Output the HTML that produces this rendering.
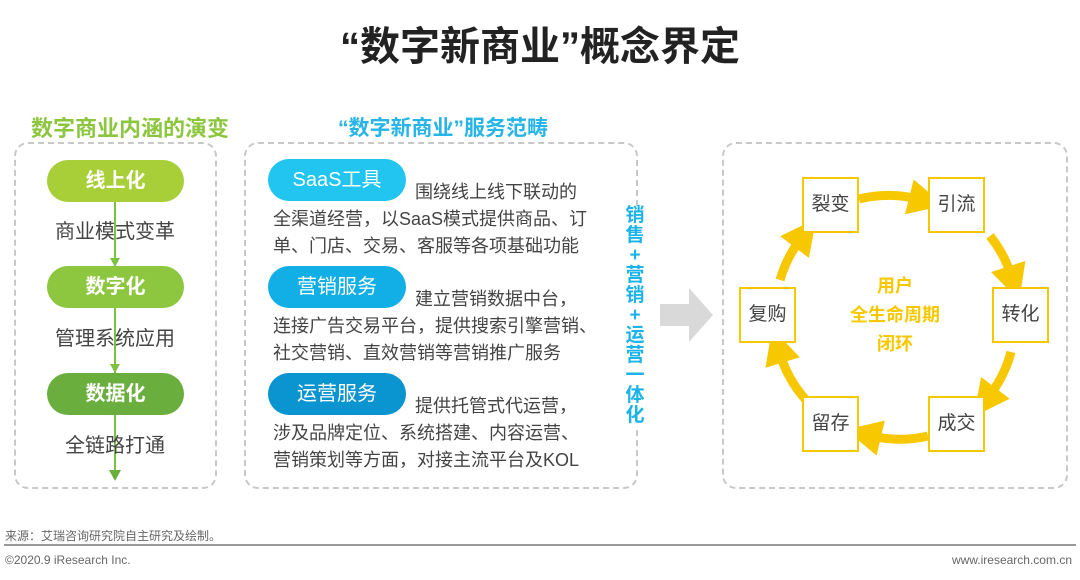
<!DOCTYPE html>
<html><head><meta charset="utf-8"><style>
body{margin:0;width:1080px;height:580px;background:#fff;position:relative;overflow:hidden;font-family:"Liberation Sans","Noto Sans CJK SC",sans-serif;}
.a{position:absolute;}
.box{position:absolute;border:2px dashed #c8c8c8;border-radius:14px;}
.pill{position:absolute;border-radius:21px;color:#fff;font-size:20px;text-align:center;line-height:42px;}
.g{font-weight:bold;}
.t{position:absolute;font-size:20px;color:#444;white-space:nowrap;}
.m{position:absolute;font-size:18px;color:#444;white-space:nowrap;}
.nb{position:absolute;width:53px;height:52px;border:2px solid #f7c800;background:#fff;font-size:19px;color:#444;text-align:center;line-height:52px;}
</style></head><body>
<div class="a" style="left:0;width:1080px;top:14px;text-align:center;font-size:40px;font-weight:bold;color:#222;">“数字新商业”概念界定</div>

<div class="a" style="left:31px;top:111px;font-size:22px;font-weight:bold;color:#8cc63f;">数字商业内涵的演变</div>
<div class="box" style="left:14px;top:142px;width:199px;height:343px;"></div>
<svg class="a" style="left:0;top:0" width="240" height="500">
<line x1="115" y1="200" x2="115" y2="472" stroke="#7cc242" stroke-width="2"/>
<polygon points="110,258 120,258 115,267" fill="#7cc242"/>
<polygon points="110,364 120,364 115,373" fill="#7cc242"/>
<polygon points="109,470 121,470 115,481" fill="#6aaf3d"/>
</svg>
<div class="pill g" style="left:47px;top:160px;width:137px;height:42px;background:#a9cf38;">线上化</div>
<div class="pill g" style="left:47px;top:266px;width:137px;height:42px;background:#8dc63f;">数字化</div>
<div class="pill g" style="left:47px;top:373px;width:137px;height:42px;background:#6aae3e;">数据化</div>
<div class="t" style="left:55px;top:215px;">商业模式变革</div>
<div class="t" style="left:55px;top:322px;">管理系统应用</div>
<div class="t" style="left:65px;top:429px;">全链路打通</div>

<div class="a" style="left:338px;top:112px;font-size:21px;font-weight:bold;color:#27b4e6;">“数字新商业”服务范畴</div>
<div class="box" style="left:244px;top:142px;width:390px;height:343px;"></div>
<div class="pill" style="left:268px;top:159px;width:138px;height:42px;background:#22c5f0;">SaaS工具</div>
<div class="pill" style="left:268px;top:266px;width:138px;height:42px;background:#12afe6;">营销服务</div>
<div class="pill" style="left:268px;top:373px;width:138px;height:42px;background:#0a94d0;">运营服务</div>
<div class="m" style="left:415px;top:178px;">围绕线上线下联动的</div>
<div class="m" style="left:273px;top:205px;">全渠道经营，以SaaS模式提供商品、订</div>
<div class="m" style="left:273px;top:232px;">单、门店、交易、客服等各项基础功能</div>
<div class="m" style="left:415px;top:285px;">建立营销数据中台，</div>
<div class="m" style="left:273px;top:312px;">连接广告交易平台，提供搜索引擎营销、</div>
<div class="m" style="left:273px;top:339px;">社交营销、直效营销等营销推广服务</div>
<div class="m" style="left:415px;top:392px;">提供托管式代运营，</div>
<div class="m" style="left:273px;top:419px;">涉及品牌定位、系统搭建、内容运营、</div>
<div class="m" style="left:273px;top:446px;">营销策划等方面，对接主流平台及KOL</div>
<div class="a" style="left:623px;top:206px;width:24px;background:#fff;font-size:19px;font-weight:bold;color:#1cb3ea;line-height:20px;text-align:center;">销<br>售<br>+<br>营<br>销<br>+<br>运<br>营<br>一<br>体<br>化</div>

<svg class="a" style="left:655px;top:285px" width="62" height="60"><polygon points="5,19 34,19 34,3 58,30 34,57 34,41 5,41" fill="#d9d9d9"/></svg>

<div class="box" style="left:722px;top:142px;width:342px;height:343px;"></div>
<svg class="a" style="left:0;top:0" width="1080" height="580">
<defs><marker id="h" markerWidth="4" markerHeight="4" refX="1" refY="2" orient="auto"><polygon points="0,0 4,2 0,4" fill="#f7c800"/></marker></defs>
<g fill="none" stroke="#f7c800" stroke-width="9" marker-end="url(#h)">
<path d="M859 199 A122 122 0 0 1 918 199"/>
<path d="M990 236 A122 122 0 0 1 1011 275"/>
<path d="M1011 352 A122 122 0 0 1 990 395"/>
<path d="M928 436 A122 122 0 0 1 872 436"/>
<path d="M806 400 A122 122 0 0 1 780 354"/>
<path d="M780 280 A122 122 0 0 1 800 240"/>
</g>
</svg>
<div class="nb" style="left:802px;top:177px;">裂变</div>
<div class="nb" style="left:928px;top:177px;">引流</div>
<div class="nb" style="left:992px;top:287px;">转化</div>
<div class="nb" style="left:928px;top:396px;">成交</div>
<div class="nb" style="left:802px;top:396px;">留存</div>
<div class="nb" style="left:739px;top:287px;">复购</div>
<div class="a" style="left:835px;top:272px;width:120px;text-align:center;font-size:18px;font-weight:bold;color:#f7c800;line-height:29px;">用户<br>全生命周期<br>闭环</div>

<div class="a" style="left:5px;top:527px;font-size:12px;color:#666;">来源：艾瑞咨询研究院自主研究及绘制。</div>
<div class="a" style="left:4px;top:544px;width:1072px;height:2px;background:#999;"></div>
<div class="a" style="left:5px;top:553px;font-size:12px;color:#666;">©2020.9 iResearch Inc.</div>
<div class="a" style="right:8px;top:553px;font-size:12px;color:#666;">www.iresearch.com.cn</div>
</body></html>
